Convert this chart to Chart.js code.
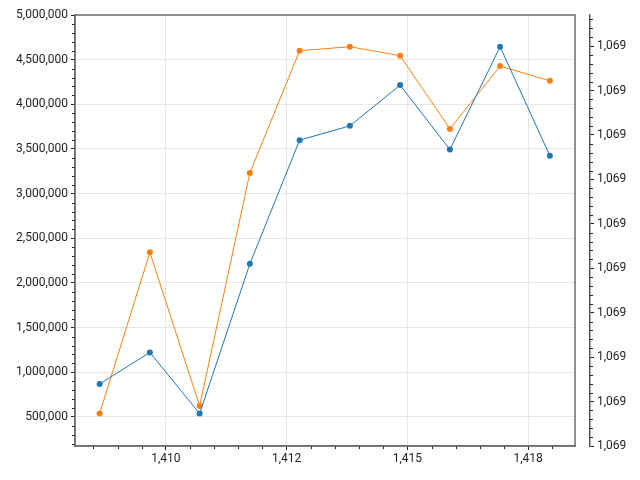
<!DOCTYPE html>
<html>
<head>
<meta charset="utf-8">
<script src="https://cdn.jsdelivr.net/npm/chart.js@4/dist/chart.umd.min.js"></script>
<style>
  html, body { margin: 0; padding: 0; background: #fff; }
</style>
</head>
<body>
<canvas id="line-chart" width="640" height="480"></canvas>
<script>
// values
const xValues = [1408.63, 1409.67, 1410.70, 1411.74, 1412.77, 1413.81, 1414.85, 1415.88, 1416.92, 1417.95];
const blueValues = [870000, 1222000, 538000, 2215000, 3599000, 3759000, 4215000, 3493000, 4645000, 3423000];
const orangeValues = [538000, 2343000, 623000, 3232000, 4600000, 4645000, 4544000, 3725000, 4428000, 4263000];

const xTicks = [1410, 1412.5, 1415, 1417.5];
const xTickLabels = ['1,410', '1,412', '1,415', '1,418'];
const yTicks = [500000, 1000000, 1500000, 2000000, 2500000, 3000000, 3500000, 4000000, 4500000, 5000000];
const rightTicks = [1069.20, 1069.21, 1069.22, 1069.23, 1069.24, 1069.25, 1069.26, 1069.27, 1069.28, 1069.29];
const rightTickLabel = '1,069';

const fmt = new Intl.NumberFormat('en-US');
const textColor = '#1e1e1e';
const gridColor = '#e6e6e6';
const frameColor = '#6e6e6e';
const tickFont = { family: "'Segoe UI', Roboto, 'Open Sans', sans-serif", size: 12 };

// minor tick marks + plot frame
const axisExtras = {
  id: 'axisExtras',
  afterDraw(chart) {
    const { ctx, chartArea: a, scales } = chart;
    ctx.save();
    ctx.lineWidth = 1;
    ctx.strokeStyle = '#222';
    function minors(scale, step, majors, draw) {
      let v = Math.ceil(scale.min / step) * step;
      for (; v <= scale.max + 1e-9; v += step) {
        if (majors.some(m => Math.abs(m - v) < step / 10)) continue;
        draw(scale.getPixelForValue(v));
      }
    }
    function seg(x1, y1, x2, y2) {
      ctx.beginPath(); ctx.moveTo(x1, y1); ctx.lineTo(x2, y2); ctx.stroke();
    }
    minors(scales.x, 0.5, xTicks, p => { p = Math.round(p) + 0.5; seg(p, a.bottom, p, a.bottom + 3); });
    minors(scales.y, 100000, yTicks, p => { p = Math.round(p) + 0.5; seg(a.left - 3, p, a.left, p); });
    const yr = scales.yr;
    minors(yr, 0.002, rightTicks, p => { p = Math.round(p) + 0.5; seg(yr.left, p, yr.left + 3, p); });

    ctx.strokeStyle = frameColor;
    ctx.lineWidth = 1.5;
    ctx.strokeRect(a.left, a.top, a.right - a.left, a.bottom - a.top);
    ctx.restore();
  }
};

const lineChart = new Chart(document.getElementById('line-chart'), {
  type: 'line',
  data: {
    datasets: [
      {
        label: 'Series 1',
        data: xValues.map((x, i) => ({ x: x, y: blueValues[i] })),
        borderColor: '#1f77b4',
        backgroundColor: '#1f77b4',
        borderWidth: 1,
        pointRadius: 3,
        pointBorderWidth: 0,
        yAxisID: 'y'
      },
      {
        label: 'Series 2',
        data: xValues.map((x, i) => ({ x: x, y: orangeValues[i] })),
        borderColor: '#ff7f0e',
        backgroundColor: '#ff7f0e',
        borderWidth: 1,
        pointRadius: 3,
        pointBorderWidth: 0,
        yAxisID: 'y'
      }
    ]
  },
  options: {
    responsive: false,
    animation: false,
    layout: { padding: { top: 15, left: 0, right: 0, bottom: 0 } },
    plugins: {
      legend: { display: false },
      tooltip: { enabled: false }
    },
    scales: {
      x: {
        type: 'linear',
        min: 1408.12,
        max: 1418.47,
        afterBuildTicks: axis => { axis.ticks = xTicks.map(v => ({ value: v })); },
        afterFit: axis => { axis.height = 34; },
        ticks: {
          callback: (v, i) => xTickLabels[i],
          color: textColor,
          font: tickFont,
          padding: 2,
          maxRotation: 0,
          autoSkip: false
        },
        grid: { color: gridColor, tickColor: '#222', tickLength: 4 },
        border: { color: frameColor, width: 1.5 }
      },
      y: {
        type: 'linear',
        position: 'left',
        min: 175000,
        max: 5000000,
        afterBuildTicks: axis => { axis.ticks = yTicks.map(v => ({ value: v })); },
        afterFit: axis => { axis.width = 75; },
        ticks: {
          callback: v => fmt.format(v),
          color: textColor,
          font: tickFont,
          padding: 3
        },
        grid: { color: gridColor, tickColor: '#222', tickLength: 4 },
        border: { color: frameColor, width: 1.5 }
      },
      gap: {
        type: 'linear',
        position: 'right',
        weight: 0,
        afterFit: axis => { axis.width = 15; },
        ticks: { display: false },
        grid: { display: false },
        border: { display: false }
      },
      yr: {
        type: 'linear',
        position: 'right',
        weight: 1,
        min: 1069.20,
        max: 1069.297,
        afterBuildTicks: axis => { axis.ticks = rightTicks.map(v => ({ value: v })); },
        afterFit: axis => { axis.width = 50; },
        ticks: {
          callback: () => rightTickLabel,
          color: textColor,
          font: tickFont,
          padding: 3
        },
        grid: { drawOnChartArea: false, tickColor: '#222', tickLength: 4 },
        border: { color: '#555', width: 1.5 }
      }
    }
  },
  plugins: [axisExtras]
});
</script>
</body>
</html>
